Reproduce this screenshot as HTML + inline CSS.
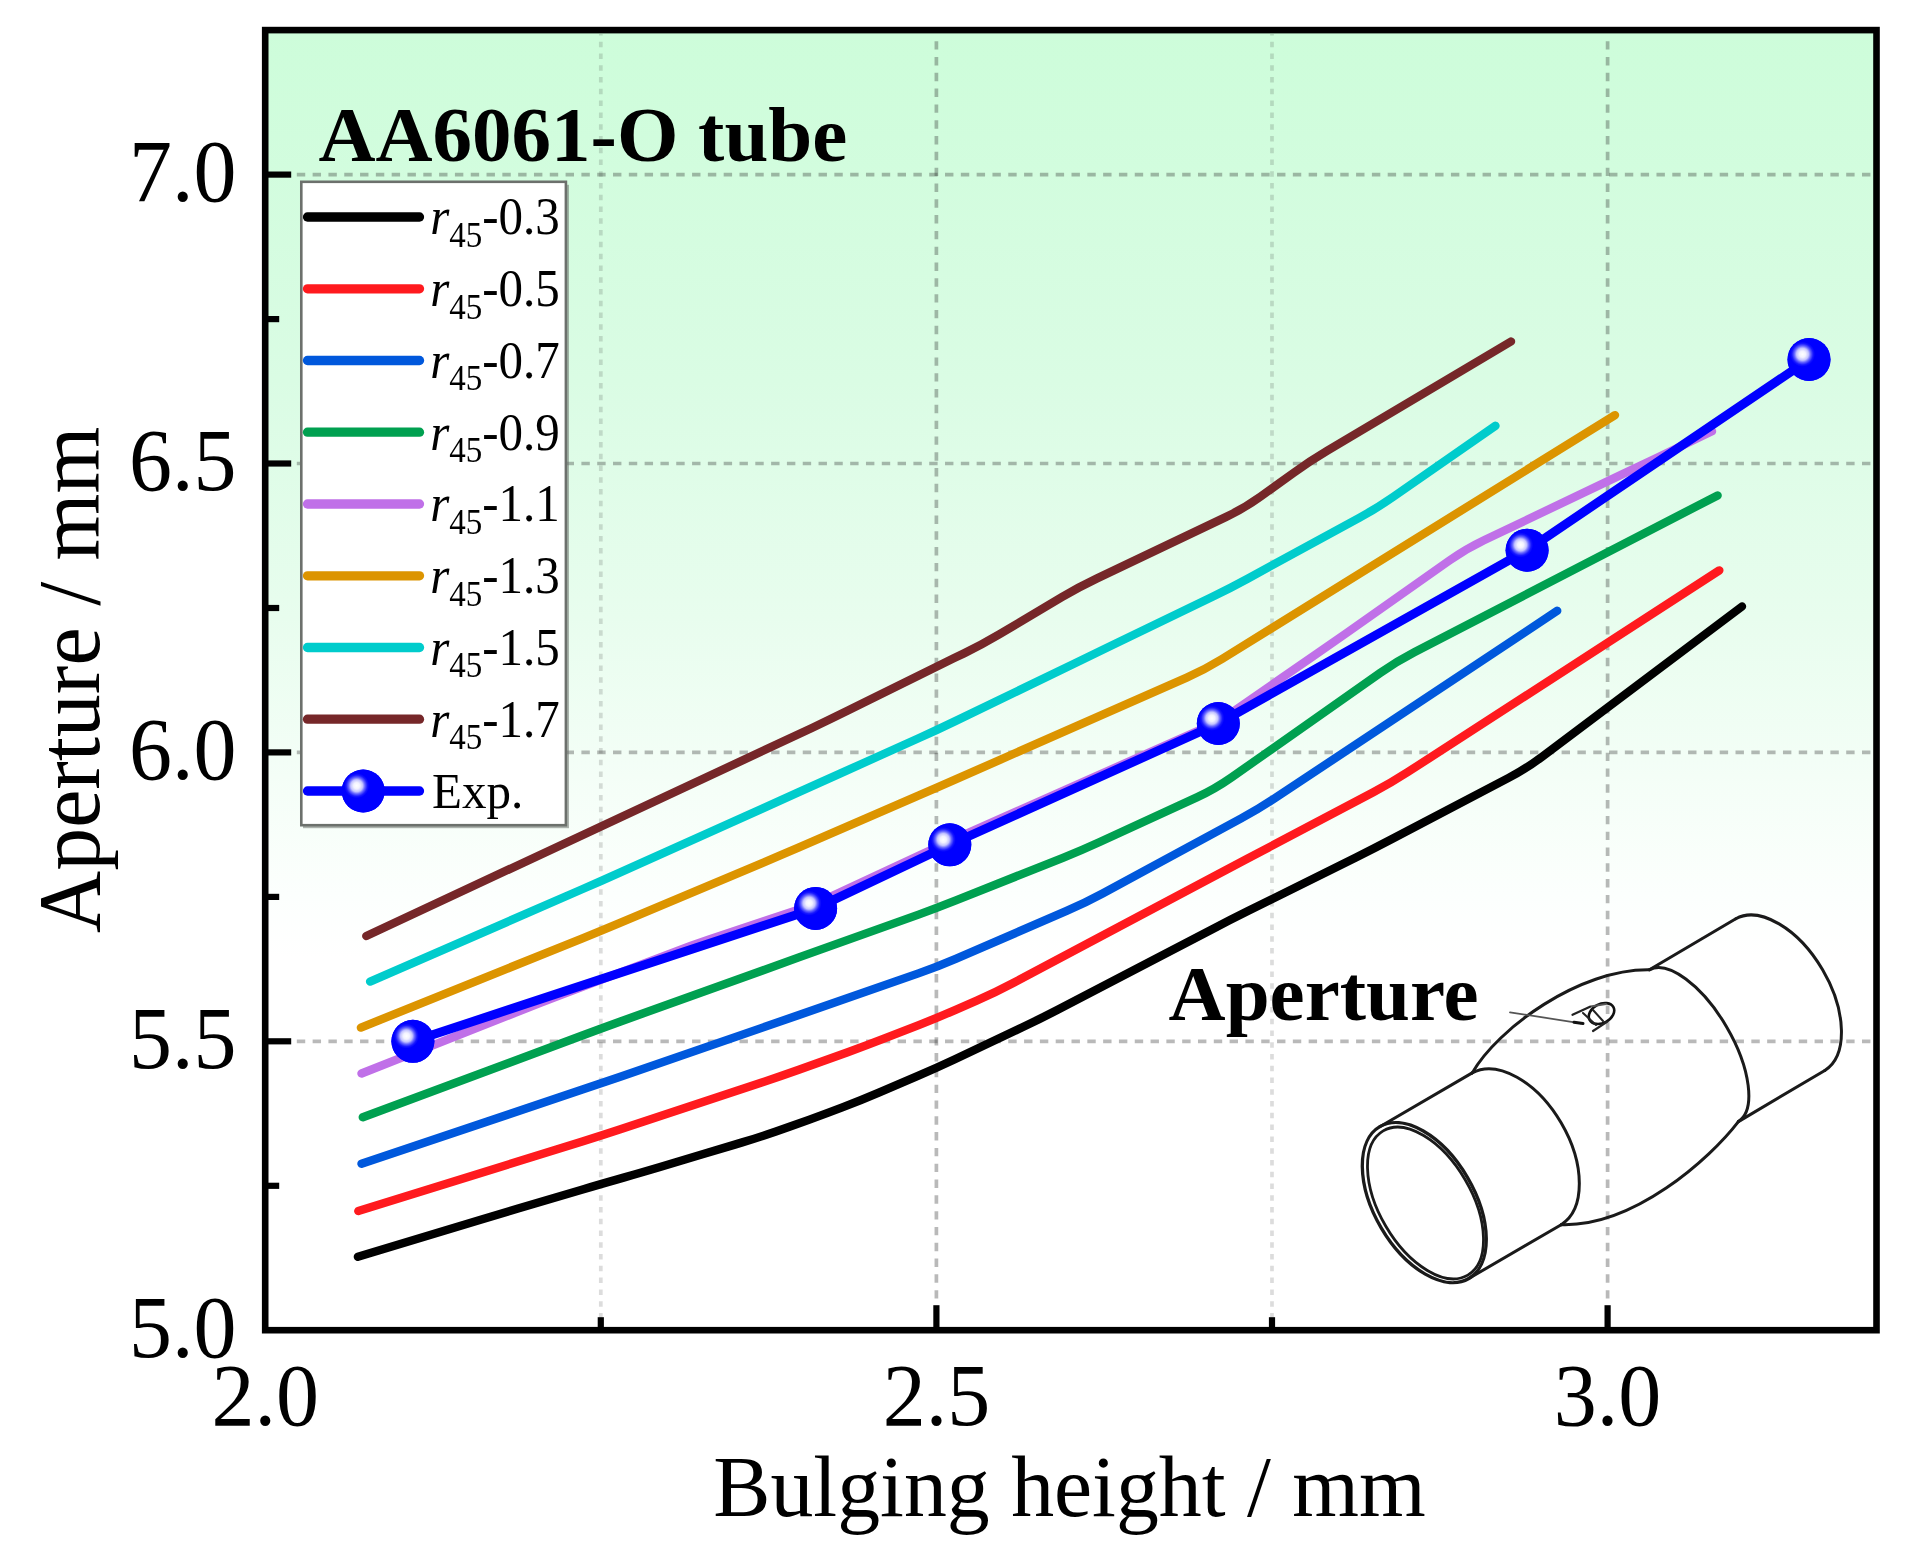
<!DOCTYPE html>
<html lang="en"><head><meta charset="utf-8"><title>Aperture vs bulging height</title>
<style>html,body{margin:0;padding:0;background:#fff}body{width:1913px;height:1564px;overflow:hidden}svg{display:block;filter:blur(0.55px)}text{font-family:'Liberation Serif', 'Times New Roman', serif;fill:#000}</style>
</head><body>
<svg width="1913" height="1564" viewBox="0 0 1913 1564">
<defs>
<linearGradient id="bg" x1="0" y1="0" x2="0" y2="1"><stop offset="0" stop-color="#cdfdda"/><stop offset="0.269" stop-color="#dafce4"/><stop offset="0.452" stop-color="#e8fdee"/><stop offset="0.574" stop-color="#f4fef7"/><stop offset="0.665" stop-color="#fcfffd"/><stop offset="0.715" stop-color="#ffffff"/></linearGradient>
<radialGradient id="ball" cx="0.349" cy="0.377" r="0.29" fx="0.349" fy="0.377"><stop offset="0" stop-color="#ffffff"/><stop offset="0.25" stop-color="#f2f2ff"/><stop offset="0.48" stop-color="#c4c4ff"/><stop offset="0.66" stop-color="#6464ff"/><stop offset="0.85" stop-color="#1818ff"/><stop offset="1" stop-color="#0000ff"/></radialGradient>
<g id="mk"><circle r="21.5" fill="#0000ff"/><circle r="21.5" fill="url(#ball)"/></g>
</defs>
<rect width="1913" height="1564" fill="#ffffff"/>
<rect x="265.2" y="30.1" width="1611.3" height="1300.1" fill="url(#bg)"/>
<g fill="none" stroke="#262626" stroke-width="3.7">
<line x1="936.4" y1="1330.2" x2="936.4" y2="34.1" stroke-opacity="0.32" stroke-dasharray="8.4 7.41"/>
<line x1="1607.6" y1="1330.2" x2="1607.6" y2="34.1" stroke-opacity="0.32" stroke-dasharray="8.4 7.41"/>
<line x1="600.8" y1="1330.2" x2="600.8" y2="34.1" stroke-opacity="0.16" stroke-dasharray="5.5 6.27"/>
<line x1="1272.0" y1="1330.2" x2="1272.0" y2="34.1" stroke-opacity="0.16" stroke-dasharray="5.5 6.27"/>
<line x1="265.2" y1="1041.3" x2="1872.5" y2="1041.3" stroke-opacity="0.32" stroke-dasharray="8.4 7.41"/>
<line x1="265.2" y1="752.4" x2="1872.5" y2="752.4" stroke-opacity="0.32" stroke-dasharray="8.4 7.41"/>
<line x1="265.2" y1="463.5" x2="1872.5" y2="463.5" stroke-opacity="0.32" stroke-dasharray="8.4 7.41"/>
<line x1="265.2" y1="174.6" x2="1872.5" y2="174.6" stroke-opacity="0.32" stroke-dasharray="8.4 7.41"/>
</g>
<rect x="303" y="184.8" width="266" height="643.4" fill="#6f746f" opacity="0.55"/>
<rect x="301.3" y="181.8" width="264.6" height="643.4" fill="#ffffff" stroke="#6c706c" stroke-width="2.6"/>
<g fill="none" stroke-linecap="round" stroke-linejoin="round" stroke-width="8.4">
<path stroke="#000000" d="M357.9 1256.7 L479.8 1220.0 Q498.9 1214.2 518.1 1208.5 L581.8 1189.7 Q601.0 1184.0 616.6 1179.6 L624.4 1177.4 Q640.0 1173.0 659.2 1167.3 L700.8 1154.7 Q720.0 1149.0 734.8 1144.6 L742.2 1142.4 Q757.0 1138.0 775.9 1131.5 L790.1 1126.5 Q809.0 1120.0 827.7 1112.9 L842.3 1107.4 Q861.0 1100.3 879.4 1092.4 L917.9 1075.9 Q936.3 1068.0 954.4 1059.5 L1021.9 1027.5 Q1040.0 1019.0 1057.7 1009.8 L1212.3 929.2 Q1230.0 920.0 1247.9 911.1 L1355.9 857.4 Q1373.8 848.5 1391.5 839.2 L1508.6 777.9 Q1526.3 768.6 1542.3 756.6 L1742.0 606.5"/>
<path stroke="#ff1a1e" d="M358.3 1211.1 L582.3 1141.5 Q601.4 1135.6 620.4 1129.3 L761.0 1082.8 Q780.0 1076.5 798.8 1069.8 L847.7 1052.2 Q866.5 1045.5 885.1 1038.2 L918.7 1025.1 Q937.3 1017.8 955.6 1009.8 L976.7 1000.7 Q995.0 992.7 1012.7 983.3 L1212.3 877.2 Q1230.0 867.8 1247.7 858.5 L1373.3 792.3 Q1391.0 783.0 1407.8 772.1 L1719.3 570.4"/>
<path stroke="#0058dc" d="M361.5 1163.7 L582.4 1089.6 Q601.4 1083.2 620.3 1076.7 L761.1 1028.1 Q780.0 1021.6 798.9 1015.0 L918.4 973.4 Q937.3 966.8 955.7 958.9 L1066.6 910.9 Q1085.0 903.0 1102.6 893.5 L1241.2 818.4 Q1258.8 808.9 1275.5 797.8 L1557.2 610.8"/>
<path stroke="#00a050" d="M362.8 1117.3 L582.3 1035.5 Q601.0 1028.5 619.8 1021.7 L761.2 971.0 Q780.0 964.2 798.8 957.4 L918.5 914.6 Q937.3 907.8 955.9 900.4 L1062.9 857.8 Q1081.5 850.4 1099.7 842.0 L1196.8 797.4 Q1215.0 789.0 1231.4 777.5 L1380.1 673.0 Q1396.5 661.5 1414.3 652.3 L1717.6 495.4"/>
<path stroke="#c070e8" d="M361.5 1073.5 L521.4 1010.3 Q540.0 1003.0 558.7 995.9 L671.3 953.1 Q690.0 946.0 709.0 939.6 L796.0 910.4 Q815.0 904.0 833.1 895.5 L931.9 849.5 Q950.0 841.0 968.3 832.9 L1199.7 730.1 Q1218.0 722.0 1234.5 710.6 L1313.5 656.0 Q1330.0 644.6 1346.4 633.1 L1449.6 560.4 Q1466.0 548.9 1484.0 540.3 L1621.0 474.9 Q1639.0 466.3 1657.0 457.7 L1712.0 431.3"/>
<path stroke="#dc9400" d="M360.9 1027.6 L582.5 938.3 Q601.0 930.8 619.4 923.1 L761.6 863.3 Q780.0 855.6 798.4 847.7 L918.9 795.4 Q937.3 787.5 955.6 779.4 L1186.7 677.6 Q1205.0 669.5 1222.0 659.0 L1615.0 415.1"/>
<path stroke="#00cccc" d="M370.1 981.6 L582.7 889.0 Q601.0 881.0 619.2 872.8 L761.8 808.8 Q780.0 800.6 798.2 792.4 L840.5 773.4 Q858.7 765.2 876.9 757.0 L919.1 738.0 Q937.3 729.8 955.3 721.1 L1074.0 663.7 Q1092.0 655.0 1110.0 646.3 L1212.0 597.0 Q1230.0 588.3 1247.6 578.7 L1359.2 517.9 Q1376.8 508.3 1393.2 496.9 L1495.5 425.8"/>
<path stroke="#762729" d="M366.3 936.0 L811.9 728.0 Q830.0 719.5 847.9 710.6 L918.3 675.8 Q936.2 666.9 954.2 658.1 L964.0 653.4 Q982.0 644.6 999.2 634.4 L1061.8 597.2 Q1079.0 587.0 1097.1 578.4 L1226.2 516.9 Q1244.3 508.3 1260.5 496.6 L1293.6 472.8 Q1309.8 461.1 1327.0 450.9 L1511.0 341.5"/>
<polyline stroke="#0000ff" stroke-width="9.0" points="412.9,1041.3 815.6,908.4 949.8,844.8 1218.3,723.5 1527.1,550.2 1809.0,359.5"/>
</g>
<use href="#mk" x="412.9" y="1041.3"/>
<use href="#mk" x="815.6" y="908.4"/>
<use href="#mk" x="949.8" y="844.8"/>
<use href="#mk" x="1218.3" y="723.5"/>
<use href="#mk" x="1527.1" y="550.2"/>
<use href="#mk" x="1809.0" y="359.5"/>
<g fill="none" stroke-linecap="round" stroke-width="9.3">
<line x1="307.5" y1="217.0" x2="419.5" y2="217.0" stroke="#000000"/>
<line x1="307.5" y1="288.8" x2="419.5" y2="288.8" stroke="#ff1a1e"/>
<line x1="307.5" y1="360.5" x2="419.5" y2="360.5" stroke="#0058dc"/>
<line x1="307.5" y1="432.2" x2="419.5" y2="432.2" stroke="#00a050"/>
<line x1="307.5" y1="504.0" x2="419.5" y2="504.0" stroke="#c070e8"/>
<line x1="307.5" y1="575.8" x2="419.5" y2="575.8" stroke="#dc9400"/>
<line x1="307.5" y1="647.5" x2="419.5" y2="647.5" stroke="#00cccc"/>
<line x1="307.5" y1="719.2" x2="419.5" y2="719.2" stroke="#762729"/>
<line x1="307.5" y1="791.0" x2="419.5" y2="791.0" stroke="#0000ff"/>
</g>
<use href="#mk" x="363.2" y="791.0"/>
<g font-size="49">
<text transform="translate(430.2 234.3) scale(1 1.06)"><tspan font-style="italic">r</tspan><tspan font-size="33" dy="11.8">45</tspan><tspan dy="-11.8">-0.3</tspan></text>
<text transform="translate(430.2 306.1) scale(1 1.06)"><tspan font-style="italic">r</tspan><tspan font-size="33" dy="11.8">45</tspan><tspan dy="-11.8">-0.5</tspan></text>
<text transform="translate(430.2 377.8) scale(1 1.06)"><tspan font-style="italic">r</tspan><tspan font-size="33" dy="11.8">45</tspan><tspan dy="-11.8">-0.7</tspan></text>
<text transform="translate(430.2 449.6) scale(1 1.06)"><tspan font-style="italic">r</tspan><tspan font-size="33" dy="11.8">45</tspan><tspan dy="-11.8">-0.9</tspan></text>
<text transform="translate(430.2 521.3) scale(1 1.06)"><tspan font-style="italic">r</tspan><tspan font-size="33" dy="11.8">45</tspan><tspan dy="-11.8">-1.1</tspan></text>
<text transform="translate(430.2 593.0) scale(1 1.06)"><tspan font-style="italic">r</tspan><tspan font-size="33" dy="11.8">45</tspan><tspan dy="-11.8">-1.3</tspan></text>
<text transform="translate(430.2 664.8) scale(1 1.06)"><tspan font-style="italic">r</tspan><tspan font-size="33" dy="11.8">45</tspan><tspan dy="-11.8">-1.5</tspan></text>
<text transform="translate(430.2 736.5) scale(1 1.06)"><tspan font-style="italic">r</tspan><tspan font-size="33" dy="11.8">45</tspan><tspan dy="-11.8">-1.7</tspan></text>
<text transform="translate(432 808.3) scale(1 1.04)">Exp.</text>
</g>
<g fill="none" stroke="#1a1a1a" stroke-width="3" stroke-linecap="round">
<ellipse cx="1424.3" cy="1202.6" rx="88.0" ry="50.0" transform="rotate(59.6 1424.3 1202.6)" stroke-width="3.3"/>
<ellipse cx="1425.5" cy="1203.0" rx="83.6" ry="46.0" transform="rotate(59.6 1425.5 1203.0)" stroke-width="2.8"/>
<path d="M1379.8 1126.7 L1472.2 1072.9"/>
<path d="M1468.8 1278.5 L1561.2 1224.7"/>
<path d="M1472.2 1072.9 A88.0 52.5 59.6 0 1 1561.2 1224.7"/>
<path d="M1649.4 969.8 A88.0 38.5 59.6 0 1 1738.4 1121.6"/>
<path d="M1735.8 918.7 A88.0 50.0 59.6 0 1 1824.8 1070.5"/>
<path d="M1649.4 969.8 L1735.8 918.7"/>
<path d="M1738.4 1121.6 L1824.8 1070.5"/>
<path d="M1472.2 1072.9 C1497.7 1028.6 1579.2 968.8 1649.4 969.8"/>
<path d="M1561.2 1224.7 C1633.6 1227.0 1709.7 1159.1 1738.4 1121.6"/>
</g>
<g fill="none" stroke="#333" stroke-width="1.8" stroke-linecap="round">
<path d="M1510 1012.3 L1581 1023.3" stroke="#555"/>
<path d="M1574 1022.3 L1583 1023.6" stroke="#111" stroke-width="3"/>
<ellipse cx="1601.5" cy="1013.5" rx="13.5" ry="9.5" transform="rotate(-28 1601.5 1013.5)" stroke="#111" stroke-width="2.6"/>
<path d="M1590.5 1006.5 L1606 1004" stroke="#555"/>
<path d="M1572.5 1014.8 L1590 1006.8" stroke="#222" stroke-width="2.2"/>
<path d="M1593 1031 L1607 1021.8" stroke="#222" stroke-width="2.2"/>
<path d="M1583 1013 L1596 1025" stroke="#222" stroke-width="2"/>
<path d="M1593 1010 L1603 1021" stroke="#222" stroke-width="2"/>
</g>
<g stroke="#000" fill="none">
<rect x="265.2" y="30.1" width="1611.3" height="1300.1" stroke-width="6.6"/>
<g stroke-width="6.2">
<line x1="936.4" y1="1330.2" x2="936.4" y2="1305.2"/>
<line x1="1607.6" y1="1330.2" x2="1607.6" y2="1305.2"/>
<line x1="600.8" y1="1330.2" x2="600.8" y2="1317.2"/>
<line x1="1272.0" y1="1330.2" x2="1272.0" y2="1317.2"/>
<line x1="265.2" y1="1041.3" x2="291.2" y2="1041.3"/>
<line x1="265.2" y1="752.4" x2="291.2" y2="752.4"/>
<line x1="265.2" y1="463.5" x2="291.2" y2="463.5"/>
<line x1="265.2" y1="174.6" x2="291.2" y2="174.6"/>
<line x1="265.2" y1="1185.8" x2="279.2" y2="1185.8"/>
<line x1="265.2" y1="896.9" x2="279.2" y2="896.9"/>
<line x1="265.2" y1="608.0" x2="279.2" y2="608.0"/>
<line x1="265.2" y1="319.1" x2="279.2" y2="319.1"/>
</g></g>
<g font-size="86">
<text transform="translate(236.6 1356.6) scale(1 1.035)" text-anchor="end">5.0</text>
<text transform="translate(236.6 1067.7) scale(1 1.035)" text-anchor="end">5.5</text>
<text transform="translate(236.6 778.8) scale(1 1.035)" text-anchor="end">6.0</text>
<text transform="translate(236.6 489.9) scale(1 1.035)" text-anchor="end">6.5</text>
<text transform="translate(236.6 201.0) scale(1 1.035)" text-anchor="end">7.0</text>
<text transform="translate(265.2 1424.8) scale(1 1.03)" text-anchor="middle">2.0</text>
<text transform="translate(936.4 1424.8) scale(1 1.03)" text-anchor="middle">2.5</text>
<text transform="translate(1607.6 1424.8) scale(1 1.03)" text-anchor="middle">3.0</text>
</g>
<text x="1069.5" y="1516" font-size="85.8" text-anchor="middle">Bulging height / mm</text>
<text transform="translate(98.5 679.8) rotate(-90) scale(1 1.045)" font-size="86" text-anchor="middle">Aperture / mm</text>
<text x="318.5" y="160.5" font-size="79" font-weight="bold">AA6061-O tube</text>
<text x="1168.6" y="1020.3" font-size="79" font-weight="bold">Aperture</text>
</svg></body></html>
